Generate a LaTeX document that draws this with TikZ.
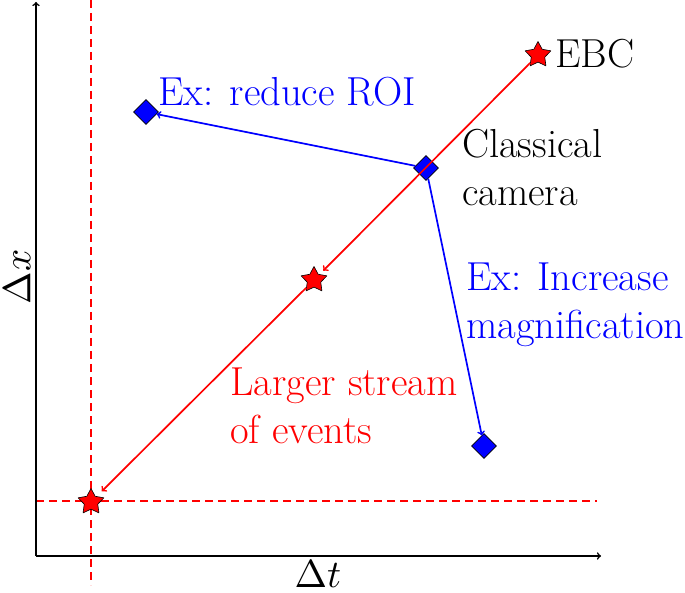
\documentclass[tikz,border=0pt]{standalone}
\usepackage{graphicx}
\usetikzlibrary{shapes.geometric,arrows}
\begin{document}
\begin{tikzpicture}[x=1pt,y=-1pt,
  every node/.style={font=\fontsize{40.5}{48}\selectfont},
  mathlbl/.style={inner sep=0pt,font=\normalsize},
  starnode/.style={star,star points=5,star point ratio=1.9,minimum size=27pt,inner sep=0pt,draw=black,fill=red,line width=0.6pt,line join=round},
  diamnode/.style={diamond,minimum size=25pt,inner sep=0pt,draw=black,fill=blue,line width=0.6pt},
  axis/.style={line width=1.6pt,->,>=to},
  guide/.style={red,line width=1.5pt,dash pattern=on 8pt off 5pt},
  redarr/.style={red,line width=1.7pt,->,>=to},
  bluearr/.style={blue,line width=1.7pt,->,>=to},
  lbl/.style={anchor=base west,inner sep=0pt,align=left}]
\useasboundingbox (0,0) rectangle (685,593);
% guides
\coordinate (gvt) at (91,0);
\coordinate (gvb) at (91,585);
\coordinate (ghl) at (36,501);
\coordinate (ghr) at (597,501);
\draw[guide] (gvt) -- (gvb);
\draw[guide] (ghl) -- (ghr);
% axes
\coordinate (o) at (36,556);
\coordinate (ytip) at (36,2);
\coordinate (xtip) at (601,556);
\draw[axis] (o) -- (ytip);
\draw[axis] (o) -- (xtip);
\node[mathlbl,rotate=90] (dx) at (17,277) {\scalebox{3.9}{$\Delta x$}};
\node[mathlbl] (dt) at (318,574) {\scalebox{3.9}{$\Delta t$}};
% points
\node[starnode] (ebc) at (538,55) {};
\node[starnode] (mid) at (314,280) {};
\node[starnode] (low) at (91,502) {};
\node[diamnode] (cam) at (426,168) {};
\node[diamnode] (roi) at (146,112) {};
\node[diamnode] (mag) at (484,446) {};
\draw[redarr,shorten >=5pt] (ebc) -- (mid);
\draw[redarr,shorten >=7pt] (mid) -- (low);
\draw[bluearr] (cam) -- (roi);
\draw[bluearr] (cam) -- (mag);
% labels
\node[lbl] (tebc) at (555,68) {EBC};
\node[lbl,text=blue] (troi) at (158,106) {Ex: reduce ROI};
\node[lbl] (tcam) at (462,206) {Classical\\camera};
\node[lbl,text=blue] (tmag) at (466,339) {Ex: Increase\\magnification};
\node[lbl,text=red] (tevt) at (230,443) {Larger stream\\of events};
\end{tikzpicture}
\end{document}
